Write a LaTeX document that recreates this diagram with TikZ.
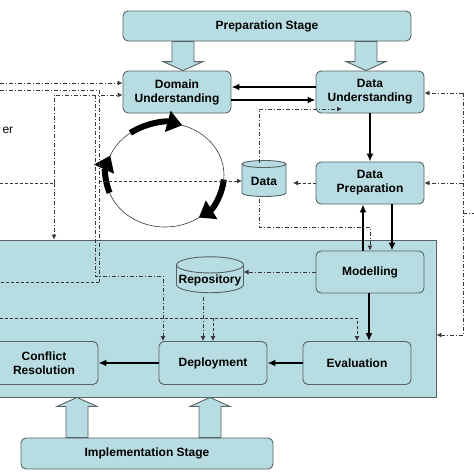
\documentclass[tikz,border=0pt]{standalone}
\usepackage{fontspec}
\setmainfont{Liberation Sans}
\usetikzlibrary{arrows.meta,positioning,calc,shapes.geometric}
\definecolor{boxfill}{RGB}{183,221,226}
\definecolor{boxline}{RGB}{88,98,100}
\definecolor{linkgray}{RGB}{55,55,55}
\tikzset{
  stagebox/.style={draw=boxline, rounded corners=5pt, line width=0.9pt,
    align=center, fill=boxfill, font=\fontsize{12}{14}\selectfont\bfseries},
  phasebox/.style={stagebox, minimum width=108pt, minimum height=42pt, inner sep=2pt},
  storebox/.style={cylinder, shape border rotate=90, aspect=0.25, draw=boxline,
    fill=boxfill, line width=0.9pt, inner sep=1pt, font=\fontsize{12}{14}\selectfont\bfseries},
  panelbox/.style={draw=boxline, fill=boxfill, line width=0.9pt},
  stageflow/.style={draw=boxline, fill=boxfill, line width=0.9pt},
  flow/.style={-{Latex[length=8pt,width=7pt]}, line width=2.2pt},
  ddflow/.style={-{Latex[length=5pt,width=5pt]}, linkgray, line width=0.8pt,
    dash pattern=on 4pt off 2pt on 1pt off 2pt},
  ddline/.style={ddflow, -},
  dflow/.style={-{Latex[length=5pt,width=5pt]}, linkgray, line width=0.8pt,
    dash pattern=on 3pt off 2pt},
  dline/.style={dflow, -},
  cyclearrow/.style={-{Triangle[length=15pt,width=21pt]}, line width=6pt}
}
\newcommand{\stagearrow}[2]{%
  \path[stageflow] let \p1=#1, \p2=($#2!9pt!#1$), \p3=#2 in
    (\x3-11pt,\y1) -- (\x3-11pt,\y2) -- (\x3-20pt,\y2) -- (\x3,\y3)
    -- (\x3+20pt,\y2) -- (\x3+11pt,\y2) -- (\x3+11pt,\y1) -- cycle;}
\begin{document}
\begin{tikzpicture}[x=1pt, y=-1pt]
\useasboundingbox (0,0) rectangle (474,474);
\clip (0,0) rectangle (474,474);

\node[stagebox, minimum width=288pt, minimum height=30pt] (prep) at (267,26) {Preparation Stage};
\node[phasebox] (domain) at (177,92) {Domain\\Understanding};
\node[phasebox] (dataund) at (370,92) {Data\\Understanding};
\node[phasebox] (dataprep) at (370,183) {Data\\Preparation};
\node[storebox, minimum width=44pt, minimum height=36pt] (datadb) at (264,181) {Data};
\node[draw=linkgray, ellipse, line width=0.6pt, minimum width=118pt, minimum height=104pt] (cyclering) at (165,175) {};
\node[anchor=west, font=\fontsize{12}{14}\selectfont] (cutlabel) at (-1,130) {er};

\node[panelbox, minimum width=446pt, minimum height=157pt] (panel) at (213,318.5) {};
\node[phasebox] (modelling) at (370,272) {Modelling};
\node[storebox, minimum width=67pt, minimum height=33pt] (repo) at (210,280) {Repository};
\node[phasebox, minimum height=43pt] (evaluation) at (357,363) {Evaluation};
\node[phasebox, minimum height=43pt] (deploy) at (213,363) {Deployment};
\node[phasebox, minimum height=43pt] (conflict) at (44,363) {Conflict\\Resolution};
\node[stagebox, minimum width=252pt, minimum height=31pt] (impl) at (147,453.5) {Implementation Stage};

\stagearrow{([xshift=6pt]domain.north |- prep.south)}{([xshift=6pt]domain.north)}
\stagearrow{([xshift=-4pt]dataund.north |- prep.south)}{([xshift=-4pt]dataund.north)}
\stagearrow{([xshift=-70pt]impl.north)}{([xshift=-70pt]impl.north |- panel.south)}
\stagearrow{([xshift=63pt]impl.north)}{([xshift=63pt]impl.north |- panel.south)}

\draw[cyclearrow] ($(cyclering.center)+(126:59pt and 52pt)$) arc[start angle=126, end angle=73, x radius=59pt, y radius=52pt];
\draw[cyclearrow] ($(cyclering.center)+(-5:59pt and 52pt)$) arc[start angle=-5, end angle=-55, x radius=59pt, y radius=52pt];
\draw[cyclearrow] ($(cyclering.center)+(200:59pt and 52pt)$) arc[start angle=200, end angle=158, x radius=59pt, y radius=52pt];

\draw[flow] ([yshift=5pt]dataund.west) -- ([yshift=5pt]domain.east);
\draw[flow] ([yshift=-8pt]domain.east) -- ([yshift=-8pt]dataund.west);
\draw[flow] (dataund) -- (dataprep);
\draw[flow] ([xshift=-7pt]modelling.north) -- ([xshift=-7pt]dataprep.south);
\draw[flow] ([xshift=22pt]dataprep.south) -- ([xshift=22pt]modelling.north);
\draw[flow] ([xshift=-1pt]modelling.south) -- ([xshift=-1pt]modelling.south |- evaluation.north);
\draw[flow] (evaluation) -- (deploy);
\draw[flow] (deploy) -- (conflict);

\coordinate (leftA) at (0,83);
\coordinate (leftB) at (0,90);
\coordinate (leftC) at (0,183);
\coordinate (joinC) at (54,183);
\coordinate (leftD) at (0,282);
\coordinate (leftE) at (0,318);
\coordinate (turnB) at (163,276);
\draw[ddflow] (leftA) -- (leftA -| domain.west);
\draw[ddline] (leftB) -| (99,282) coordinate (cornerA);
\draw[dline] (cornerA) -- (leftD);
\draw[dline] (leftC) -- (joinC);
\draw[ddflow] (joinC) |- ([yshift=-3pt]domain.west);
\draw[ddflow] (joinC) -- (joinC |- panel.north);
\draw[ddflow] (95,95) |- (turnB) -- (turnB |- deploy.north);
\draw[dflow] (99,181) -- ([xshift=-22pt]datadb.center);

\draw[ddflow] ([shift={(-5pt,18pt)}]datadb.center) |- ([shift={(-28pt,-17pt)}]dataund.center);
\draw[ddflow] ([shift={(-5pt,-18pt)}]datadb.center) |- ($(dataprep.south)!0.5!(modelling.north)$) -- (modelling.north);
\draw[dflow, {Latex[length=5pt,width=5pt]}-] ([xshift=29pt]datadb.center |- dataprep.west) -- (dataprep.west);

\coordinate (rtop) at (463,93);
\coordinate (rbot) at (463,335);
\coordinate (rout) at (474,213);
\draw[ddline] (rtop) -- (rbot);
\draw[ddflow] (rtop) -- (rtop -| dataund.east);
\draw[ddflow] (rtop |- dataprep.east) -- (dataprep.east);
\draw[ddflow] (rbot) -- (rbot -| panel.east);
\draw[ddline] (rtop |- rout) -- (rout);

\draw[ddflow] (modelling.west) -- ([xshift=33.5pt]repo.center |- modelling.west);
\draw[ddflow] ([shift={(-7pt,-16.5pt)}]repo.center) -- ([xshift=-7pt]repo.center |- deploy.north);
\draw[dflow] (leftE) -| (evaluation.north);
\draw[dflow] (leftE -| deploy.north) -- (deploy.north);
\end{tikzpicture}
\end{document}
